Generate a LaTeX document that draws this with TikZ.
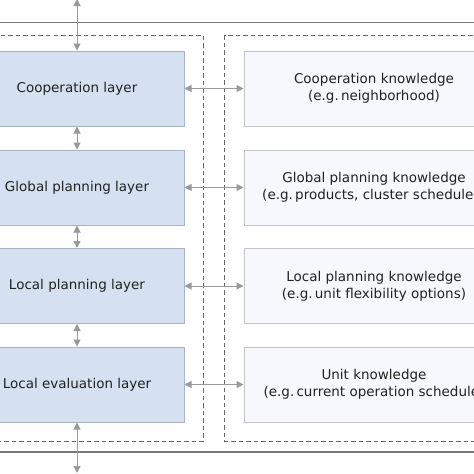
\documentclass[tikz,border=0pt]{standalone}
\usepackage{fontspec}
\setmainfont{DejaVu Sans}
\usetikzlibrary{arrows.meta}
\definecolor{layerfill}{HTML}{D5E0F1}
\definecolor{layerdraw}{HTML}{ABB3BF}
\definecolor{knowfill}{HTML}{F7F8FD}
\definecolor{knowdraw}{HTML}{C4C4C4}
\definecolor{arrowc}{HTML}{999999}
\definecolor{framec}{HTML}{777777}
\definecolor{dashc}{HTML}{666666}
\definecolor{txt}{HTML}{222222}
\tikzset{
  layerbox/.style={draw=layerdraw, fill=layerfill, line width=1pt, minimum width=214pt, minimum height=75pt, inner sep=0pt, text=txt, font=\fontsize{13.5}{16}\selectfont},
  knowbox/.style={draw=knowdraw, fill=knowfill, line width=1pt, minimum width=260pt, minimum height=75pt, inner sep=0pt, text=txt, align=center, font=\fontsize{13.5}{17}\selectfont},
  dblarrow/.style={draw=arrowc, line width=1pt, {Triangle[length=7pt,width=7pt]}-{Triangle[length=7pt,width=7pt]}},
  framebox/.style={draw=dashc, line width=1pt, dash pattern=on 4.5pt off 3pt},
  solidline/.style={draw=framec, line width=1.3pt}
}
\begin{document}
\begin{tikzpicture}[x=1pt,y=-1pt]
\useasboundingbox (0,0) rectangle (474,474);
\clip (0,0) rectangle (474,474);
\fill[white] (0,0) rectangle (474,474);
% frame lines
\coordinate (tl) at (-10,22.5);
\coordinate (tr) at (484,22.5);
\coordinate (bl) at (-10,452);
\coordinate (br) at (484,452);
\draw[solidline] (tl) -- (tr);
\draw[solidline] (bl) -- (br);
% dashed boxes
\draw[framebox] (-40,35) rectangle (203,441);
\draw[framebox] (224.5,35) rectangle (520,441);
% layer boxes
\node[layerbox] (L1) at (77,88.5) {Cooperation layer};
\node[layerbox] (L2) at (77,187.5) {Global planning layer};
\node[layerbox] (L3) at (77,286) {Local planning layer};
\node[layerbox] (L4) at (77,384.5) {Local evaluation layer};
% knowledge boxes
\node[knowbox] (K1) at (374,88.5) {Cooperation knowledge\\(e.g.\,neighborhood)};
\node[knowbox] (K2) at (374,187.5) {Global planning knowledge\\(e.g.\,products, cluster schedules)};
\node[knowbox] (K3) at (374,286) {Local planning knowledge\\(e.g.\,unit flexibility options)};
\node[knowbox] (K4) at (374,384.5) {Unit knowledge\\(e.g.\,current operation schedule)};
% vertical arrows
\coordinate (top) at (77,-1);
\coordinate (bot) at (77,473);
\draw[dblarrow] (top) -- (L1.north);
\draw[dblarrow] (L1.south) -- (L2.north);
\draw[dblarrow] (L2.south) -- (L3.north);
\draw[dblarrow] (L3.south) -- (L4.north);
\draw[dblarrow] (L4.south) -- (bot);
% horizontal arrows
\draw[dblarrow] (L1.east) -- (K1.west);
\draw[dblarrow] (L2.east) -- (K2.west);
\draw[dblarrow] (L3.east) -- (K3.west);
\draw[dblarrow] (L4.east) -- (K4.west);
\end{tikzpicture}
\end{document}
